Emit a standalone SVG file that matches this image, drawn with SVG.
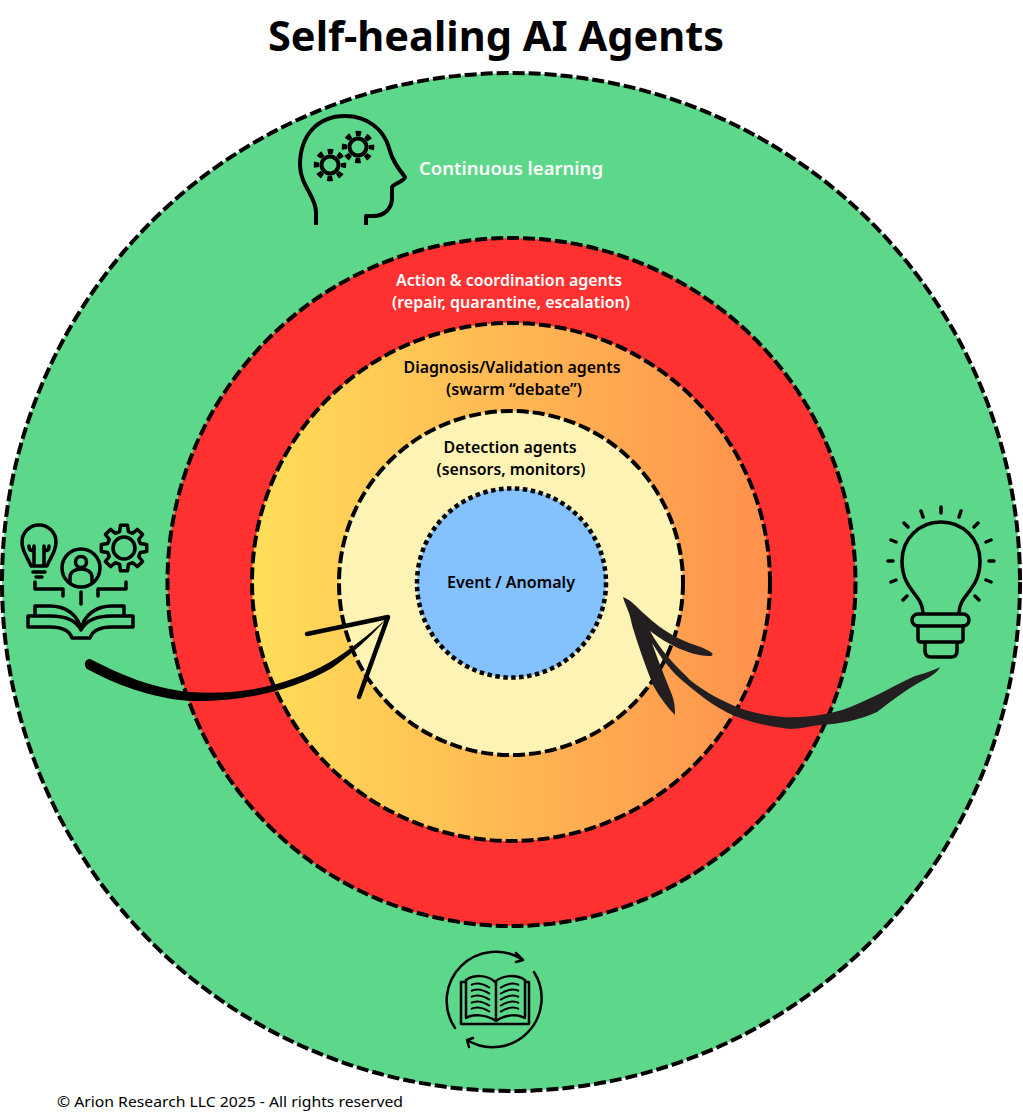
<svg xmlns="http://www.w3.org/2000/svg" xmlns:xlink="http://www.w3.org/1999/xlink" width="1023" height="1115" viewBox="0 0 1023 1115">
<style>
text{font-family:"Noto Sans","Liberation Sans",sans-serif;font-weight:600;text-anchor:middle;font-size:15.5px}
.ring{stroke:#000;stroke-width:4;stroke-dasharray:12 4}
.ic{fill:none;stroke:#000;stroke-width:3.5;stroke-linecap:round;stroke-linejoin:round}
.th{fill:none;stroke:#000;stroke-width:2.5;stroke-linejoin:round}
</style>
<defs>
<linearGradient id="g" gradientUnits="userSpaceOnUse" x1="252" y1="0" x2="770" y2="0"><stop offset="0" stop-color="#ffde59"/><stop offset="1" stop-color="#ff914d"/></linearGradient>
<g id="gear"><circle r="8.5" fill="none" stroke="#000" stroke-width="4"/><circle r="13.5" fill="none" stroke="#000" stroke-width="5.5" stroke-dasharray="5.4 5.2" stroke-dashoffset="2.7"/></g>
</defs>
<rect width="1023" height="1115" fill="#fff"/>
<text id="title" x="496" y="51" style="font-size:42px;font-weight:700" textLength="456" lengthAdjust="spacingAndGlyphs">Self-healing AI Agents</text>
<g id="ring-learning"><circle class="ring" cx="511" cy="582" r="509" fill="#5dd78a"/><text x="511" y="175" fill="#fff" style="font-size:18px" textLength="184" lengthAdjust="spacingAndGlyphs">Continuous learning</text></g>
<g id="ring-action"><circle class="ring" cx="511.5" cy="582" r="344" fill="#ff3131"/><text x="509" y="286" fill="#fff" textLength="226" lengthAdjust="spacingAndGlyphs">Action &amp; coordination agents</text><text x="511" y="308" fill="#fff" textLength="238" lengthAdjust="spacingAndGlyphs">(repair, quarantine, escalation)</text></g>
<g id="ring-diagnosis"><circle class="ring" cx="511" cy="582" r="259" fill="url(#g)"/><text x="512" y="373" textLength="217" lengthAdjust="spacingAndGlyphs">Diagnosis/Validation agents</text><text x="514" y="395" textLength="136" lengthAdjust="spacingAndGlyphs">(swarm “debate”)</text></g>
<g id="ring-detection"><circle class="ring" cx="511" cy="583" r="172" fill="#fdf3b4"/><text x="510" y="453" textLength="133" lengthAdjust="spacingAndGlyphs">Detection agents</text><text x="511" y="475" textLength="149" lengthAdjust="spacingAndGlyphs">(sensors, monitors)</text></g>
<g id="event"><circle cx="511.5" cy="583" r="94.5" fill="#83c1ff" stroke="#000" stroke-width="4.5" stroke-dasharray="4.5 3.5"/><text x="511" y="588" textLength="128" lengthAdjust="spacingAndGlyphs">Event / Anomaly</text></g>
<g id="icon-head">
<path class="ic" style="stroke-linecap:butt;stroke-width:4" d="M316 225V212C316 196 300 185 300 165C300 135 318 116 345 116C368 116 384 130 389 148C392 160 398 168 405 177C405 181 393 184 392 187V198C392 208 385 216 373 216H366V225"/>
<use xlink:href="#gear" x="330" y="165"/><use xlink:href="#gear" x="358" y="147"/>
</g>
<g id="icon-skills" class="ic">
<path d="M31 566C28 558 22 552 22 542C22 532 30 525 39 525C48 525 56 532 56 542C56 552 50 558 47 566ZM33 572H45M36 577H42M34 566V546M44 566V546M29 546C29 552 34 552 34 546M44 546C44 552 49 552 49 546"/>
<circle cx="81" cy="568" r="19"/><circle cx="81" cy="562" r="5.5"/><path d="M70 582V577C70 572 75 569 81 569C87 569 92 572 92 577V582"/>
<circle cx="124" cy="548" r="11"/>
<path transform="translate(124 548)" d="M16.4-4.4 22.7-3.6V3.6L16.4 4.4 14.7 8.5 18.6 13.5 13.5 18.6 8.5 14.7 4.4 16.4 3.6 22.7H-3.6L-4.4 16.4-8.5 14.7-13.5 18.6-18.6 13.5-14.7 8.5-16.4 4.4-22.7 3.6V-3.6L-16.4-4.4-14.7-8.5-18.6-13.5-13.5-18.6-8.5-14.7-4.4-16.4-3.6-22.7H3.6L4.4-16.4 8.5-14.7 13.5-18.6 18.6-13.5 14.7-8.5Z"/>
<path d="M35 582V589H63V596M126 582V589H98V596M81 592V604"/>
<path d="M81 630C78 614 65 606 50 606H35V616M81 630C84 614 97 606 112 606H124V616M81 630C76 620 65 616 50 616H28V627H50C60 627 69 629 72 638H90C93 629 102 627 112 627H133V616H112C97 616 86 620 81 630"/>
</g>
<g id="icon-bulb" class="ic">
<path d="M923 612C922 594 902 590 902 561C902 539 919 522 941 522C963 522 980 539 980 561C980 590 960 594 959 612"/>
<rect x="912" y="614" width="57" height="12" rx="6"/>
<path d="M918 626V639Q918 642 921 642H960Q963 642 963 639V626M925 642V651Q925 657 931 657H951Q957 657 957 651V642"/>
<path d="M941 507V513M921 511L923 517M904 523L908 527M891 540L896 542M888 561H893M891 582L896 580M903 600L907 596M961 511L959 517M978 523L974 527M991 540L986 542M994 561H989M991 582L986 580M979 600L975 596"/>
</g>
<g id="icon-book">
<path class="ic" style="stroke-width:2.5" d="M455 1028A49 49 0 0 1 523 960M534 972A49 49 0 0 1 467 1040M516 953 523 960 516 962M473 1038 467 1040 469 1047"/>
<path class="th" d="M496 1021C486 1014 472 1014 466 1018V980C475 974 488 975 495 982C502 975 516 974 525 980V1018C518 1014 506 1014 496 1021ZM496 982V1021M466 982H461V1024H529V982H525"/>
<path class="th" style="stroke-width:2" d="M471 985Q479 981 490 988M471 991Q479 987 490 994M471 997Q479 993 490 1000M471 1003Q479 999 490 1006M471 1009Q479 1005 490 1012M500 988Q511 981 519 985M500 994Q511 987 519 991M500 1000Q511 993 519 997M500 1006Q511 999 519 1003M500 1012Q511 1005 519 1009"/>
</g>
<g id="connectors">
<path id="arrow-left" fill="#000" d="M90 659C120 674 150 688 190 692C240 696 290 685 330 662C350 650 372 632 387 618C372 636 352 654 332 668C290 692 240 702 190 701C150 698 115 684 87 669C83 665 85 659 90 659Z"/>
<path fill="none" stroke="#000" stroke-width="4.5" stroke-linecap="round" stroke-linejoin="round" d="M307 634L388 617L359 697"/>
<path id="arrow-right" fill="#231f20" d="M623 597C628 599 632 602 636 606C650 620 665 632 680 639C692 645 705 647 712 653C714 656 710 656 707 656C690 655 668 645 650 631C660 650 675 665 690 680C705 692 725 703 745 710C765 716 785 718 800 717C820 716 840 712 855 705C875 697 895 685 915 676C925 673 932 671 940 667C937 673 930 677 922 681C905 690 890 702 877 712C860 720 840 724 820 725C810 726 800 729 790 729C770 727 750 722 735 716C715 708 695 692 675 674L663 660L652 643C658 660 665 678 672 695C675 703 675 710 675 715C668 708 660 698 653 685C645 665 638 645 632 625C630 612 625 605 623 597Z"/>
</g>
<text id="copyright" x="230" y="1107" style="font-size:15px;font-weight:400" textLength="346" lengthAdjust="spacingAndGlyphs">© Arion Research LLC 2025 - All rights reserved</text>
</svg>
